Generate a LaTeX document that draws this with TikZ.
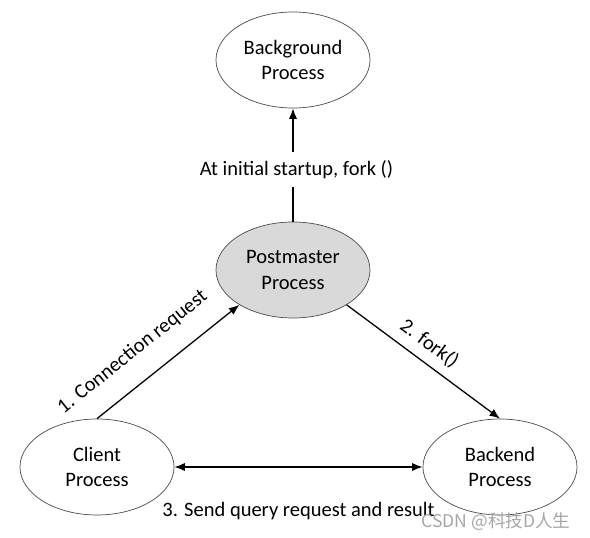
\documentclass[tikz,border=0pt]{standalone}
\usepackage{fontspec}
\setmainfont{Carlito}
\newfontfamily\cjkfont{Noto Sans CJK SC}
\usetikzlibrary{shapes.geometric}
\usetikzlibrary{arrows.meta}

\begin{document}
\begin{tikzpicture} [x=0.03cm, y=-0.03cm, >={Latex[length=9pt, width=7pt]},
  proc/.style={ellipse, draw=black!70, line width=0.6pt, minimum width=4.62cm, minimum height=2.88cm, inner sep=0pt, align=center, font=\fontsize{17.5}{22}\selectfont},
  link/.style={black, line width=1.1pt},
  lbl/.style={font=\fontsize{17.5}{21}\selectfont}]
\useasboundingbox (0,0) rectangle (590,538);

\node[proc] (bg) at (293,60) {Background\\Process};
\node[proc, fill=gray!30] (pm) at (293,270) {Postmaster\\Process};
\node[proc] (client) at (97,467) {Client\\Process};
\node[proc] (backend) at (500,467) {Backend\\Process};

\draw[link, ->] (pm) -- node[lbl, fill=white, inner ysep=7pt, xshift=3pt, pos=0.46] {At initial startup, fork ()} (bg);
\draw[link, ->] (client.north) -- node[lbl, sloped, above=14pt, pos=0.38] {1. Connection request} (pm.213);
\draw[link, ->] (pm.327) -- node[lbl, sloped, above=4pt, pos=0.47] {2. fork()} (backend.north);
\draw[link, <->] (client) -- node[lbl, below=26pt] {3. Send query request and result} (backend);

\node[gray!70, font=\cjkfont\fontsize{15}{15}\selectfont] (mark) at (496,522) {CSDN @科技D人生};

\end{tikzpicture}
\end{document}
